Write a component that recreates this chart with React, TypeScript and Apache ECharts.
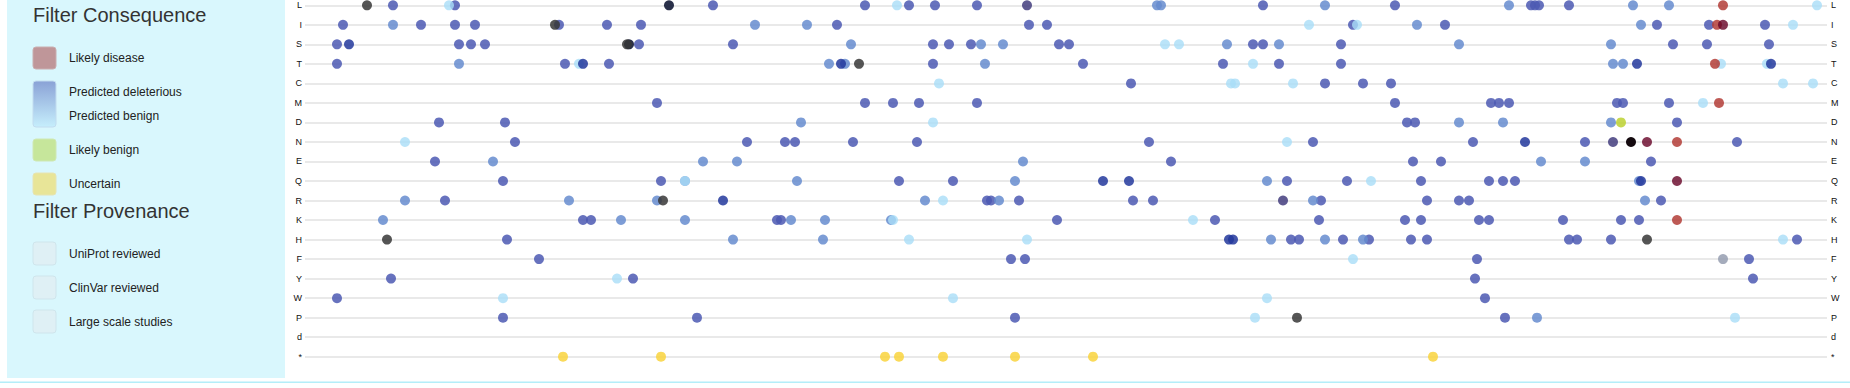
import React, { useEffect, useRef } from 'react';
import * as echarts from 'echarts';

// Rows (substituted residue), top to bottom
const residues = ['L', 'I', 'S', 'T', 'C', 'M', 'D', 'N', 'E', 'Q', 'R', 'K', 'H', 'F', 'Y', 'W', 'P', 'd', '*'];
const sequenceLength = 761;

type RowPositions = [string, number[]][];

const predictedDeleterious: RowPositions = [
  ['L', [44, 75, 204, 280, 302, 315, 336, 479, 545, 613, 615, 617, 632]],
  ['I', [19, 58, 75, 85, 127, 151, 168, 266, 362, 371, 524, 570, 676, 702, 730]],
  ['S', [16, 77, 83, 90, 167, 214, 314, 322, 333, 377, 382, 474, 479, 518, 684, 701, 732]],
  ['T', [16, 130, 152, 314, 389, 459, 487, 518]],
  ['C', [413, 510, 529, 543]],
  ['M', [176, 280, 294, 307, 336, 545, 593, 597, 602, 656, 659, 682]],
  ['D', [67, 100, 551, 555, 686]],
  ['N', [105, 221, 240, 245, 274, 306, 422, 504, 584, 640, 716]],
  ['E', [65, 433, 554, 568, 673]],
  ['Q', [99, 178, 297, 324, 491, 521, 558, 592, 599, 605]],
  ['R', [70, 341, 343, 357, 414, 424, 508, 561, 577, 582, 678]],
  ['K', [139, 143, 236, 238, 376, 455, 507, 550, 558, 587, 592, 629, 658, 667]],
  ['H', [101, 493, 497, 519, 532, 553, 561, 632, 636, 653, 746]],
  ['F', [117, 353, 360, 586, 722]],
  ['Y', [43, 164, 585, 724]],
  ['W', [16, 590]],
  ['P', [99, 196, 355, 600]],
];

const predictedIntermediate: RowPositions = [
  ['L', [426, 428, 510, 602, 664, 682]],
  ['I', [44, 225, 251, 556, 668]],
  ['S', [273, 338, 349, 461, 487, 577, 653]],
  ['T', [77, 262, 270, 340, 654, 659]],
  ['D', [248, 577, 599, 653]],
  ['E', [94, 199, 216, 359, 618, 640]],
  ['Q', [190, 246, 355, 481, 667]],
  ['R', [50, 132, 176, 310, 347, 504, 670]],
  ['K', [39, 158, 190, 243, 260, 293]],
  ['H', [214, 259, 483, 510, 529]],
  ['P', [616]],
];

const predictedBenign: RowPositions = [
  ['L', [72, 296, 756]],
  ['I', [502, 526, 744]],
  ['S', [430, 437]],
  ['T', [137, 474, 708, 731]],
  ['C', [317, 463, 465, 494, 739, 754]],
  ['M', [699]],
  ['D', [314]],
  ['N', [50, 491]],
  ['Q', [190, 533]],
  ['R', [319]],
  ['K', [294, 444]],
  ['H', [302, 361, 739]],
  ['F', [524]],
  ['Y', [156]],
  ['W', [99, 324, 481]],
  ['P', [475, 715]],
];

const stronglyDeleterious: RowPositions = [
  ['S', [22]],
  ['T', [139, 268, 666, 733]],
  ['N', [610]],
  ['Q', [399, 412, 668]],
  ['R', [209]],
  ['H', [462, 464]],
];

const multipleNavy: RowPositions = [
  ['L', [182]],
  ['S', [162]],
];

const unclassified: RowPositions = [
  ['L', [31]],
  ['I', [125]],
  ['S', [161]],
  ['T', [277]],
  ['R', [179]],
  ['H', [41, 671]],
  ['P', [496]],
];

const mixedPurple: RowPositions = [
  ['L', [361]],
  ['R', [489]],
  ['N', [654]],
];

const likelyDisease: RowPositions = [
  ['L', [709]],
  ['I', [706]],
  ['T', [705]],
  ['M', [707]],
  ['N', [686]],
  ['K', [686]],
];

const diseaseStrong: RowPositions = [
  ['I', [709]],
  ['N', [671]],
  ['Q', [686]],
];

const diseaseMixed: RowPositions = [['N', [663]]];
const likelyBenign: RowPositions = [['D', [658]]];
const greyMixed: RowPositions = [['F', [709]]];
const uncertain: RowPositions = [['*', [129, 178, 290, 297, 319, 355, 394, 564]]];

const classes: { name: string; rows: RowPositions; color: string; opacity: number }[] = [
  { name: 'Predicted deleterious', rows: predictedDeleterious, color: '#4c59b3', opacity: 0.85 },
  { name: 'Predicted intermediate', rows: predictedIntermediate, color: '#668ccf', opacity: 0.85 },
  { name: 'Predicted benign', rows: predictedBenign, color: '#a9ddf8', opacity: 0.8 },
  { name: 'Strongly deleterious', rows: stronglyDeleterious, color: '#23389c', opacity: 0.85 },
  { name: 'Multiple', rows: multipleNavy, color: '#1f2540', opacity: 0.95 },
  { name: 'Unclassified', rows: unclassified, color: '#373737', opacity: 0.85 },
  { name: 'Mixed', rows: mixedPurple, color: '#433d7e', opacity: 0.85 },
  { name: 'Likely disease', rows: likelyDisease, color: '#b33d37', opacity: 0.85 },
  { name: 'Disease', rows: diseaseStrong, color: '#660226', opacity: 0.8 },
  { name: 'Disease mixed', rows: diseaseMixed, color: '#140a0f', opacity: 1 },
  { name: 'Likely benign', rows: likelyBenign, color: '#bcd131', opacity: 0.85 },
  { name: 'Grey', rows: greyMixed, color: '#959eb0', opacity: 0.85 },
  { name: 'Uncertain', rows: uncertain, color: '#f9d33d', opacity: 0.85 },
];

const FONT = '"Liberation Sans", Arial, sans-serif';

export default function App() {
  const ref = useRef<HTMLDivElement>(null);

  useEffect(() => {
    if (!ref.current) return;
    const chart = echarts.init(ref.current, undefined, { renderer: 'svg' });

    const series = classes.map((c) => ({
      name: c.name,
      type: 'scatter',
      symbol: 'circle',
      symbolSize: 10,
      xAxisIndex: 0,
      yAxisIndex: 0,
      itemStyle: { color: c.color, opacity: c.opacity },
      emphasis: { disabled: true },
      data: c.rows.flatMap(([row, positions]) => positions.map((p) => [p, row])),
    }));

    const legendText = (text: string, x: number, y: number, size = 12, fill = '#222') => ({
      type: 'text',
      silent: true,
      style: { text, x, y, fill, font: `${size}px ${FONT}`, verticalAlign: 'middle' },
    });
    const box = (y: number, h: number, fill: any, stroke: string) => ({
      type: 'rect',
      silent: true,
      shape: { x: 33, y, width: 23, height: h, r: 3 },
      style: { fill, stroke, lineWidth: 1 },
    });

    chart.setOption({
      animation: false,
      grid: { left: 305, right: 23, top: 5.3, bottom: 31.3, containLabel: false },
      xAxis: { type: 'value', min: 0, max: sequenceLength, show: false },
      yAxis: [
        {
          type: 'category',
          data: residues,
          inverse: true,
          boundaryGap: false,
          position: 'left',
          axisLine: { show: false },
          axisTick: { show: false },
          axisLabel: { interval: 0, margin: 3, fontSize: 9, color: '#111', fontFamily: FONT },
          splitLine: { show: true, interval: 0, lineStyle: { color: '#e9e9e9', width: 2 } },
        },
        {
          type: 'category',
          data: residues,
          inverse: true,
          boundaryGap: false,
          position: 'right',
          axisLine: { show: false },
          axisTick: { show: false },
          axisLabel: { interval: 0, margin: 4, fontSize: 9, color: '#111', fontFamily: FONT },
          splitLine: { show: false },
        },
      ],
      graphic: [
        { type: 'rect', silent: true, z: -10, shape: { x: 7, y: 0, width: 278, height: 378 }, style: { fill: '#d9f7fd' } },
        { type: 'rect', silent: true, shape: { x: 0, y: 381.5, width: 1850, height: 1.6 }, style: { fill: '#b4eef9' } },
        legendText('Filter Consequence', 33, 15, 20, '#333'),
        box(47, 22, '#bf9699', '#c9aeb0'),
        legendText('Likely disease', 69, 58),
        box(81, 46, new echarts.graphic.LinearGradient(0, 0, 0, 1, [
          { offset: 0, color: '#8aa2d6' },
          { offset: 1, color: '#c6eefc' },
        ]), '#c2dcef'),
        legendText('Predicted deleterious', 69, 92),
        legendText('Predicted benign', 69, 116),
        box(139, 22, '#c6e69b', '#cfe8b4'),
        legendText('Likely benign', 69, 150),
        box(173, 22, '#e8e598', '#e6e4b4'),
        legendText('Uncertain', 69, 184),
        legendText('Filter Provenance', 33, 210.5, 20, '#333'),
        box(242, 23, '#dff0f5', '#cfe5ec'),
        legendText('UniProt reviewed', 69, 254),
        box(276, 23, '#dff0f5', '#cfe5ec'),
        legendText('ClinVar reviewed', 69, 288),
        box(310, 23, '#dff0f5', '#cfe5ec'),
        legendText('Large scale studies', 69, 322),
      ],
      series,
    });

    return () => chart.dispose();
  }, []);

  return (
    <div
      ref={ref}
      style={{ position: 'absolute', left: 0, top: 0, width: 1850, height: 388, background: '#fff' }}
    />
  );
}
